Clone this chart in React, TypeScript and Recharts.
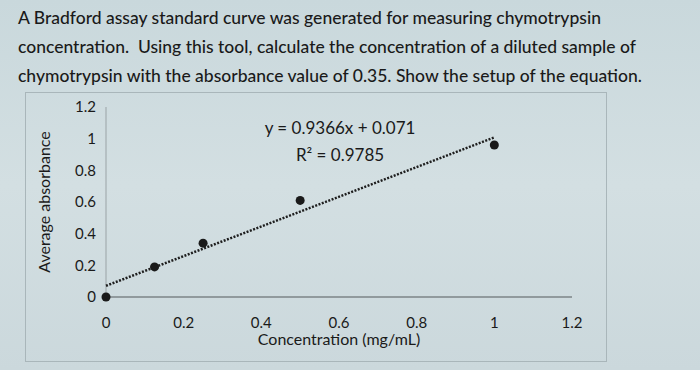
import React from 'react';
import { ScatterChart, Scatter, XAxis, YAxis } from 'recharts';

// standard curve readings
const concentrations = [0, 0.125, 0.25, 0.5, 1];
const absorbances = [0, 0.19, 0.34, 0.61, 0.96];

// linear trendline endpoints (from y = 0.9366x + 0.071)
const trendX = [0, 1];
const trendY = [0.071, 1.008];

const xTicks = [0, 0.2, 0.4, 0.6, 0.8, 1, 1.2];
const yTicks = [0, 0.2, 0.4, 0.6, 0.8, 1, 1.2];

const titleLines = [
  'A Bradford assay standard curve was generated for measuring chymotrypsin',
  'concentration.  Using this tool, calculate the concentration of a diluted sample of',
  'chymotrypsin with the absorbance value of 0.35. Show the setup of the equation.',
];

const points = concentrations.map((x, i) => ({ x, y: absorbances[i] }));
const trend = trendX.map((x, i) => ({ x, y: trendY[i] }));

const fmt = (v: number) => String(v);

const App = () => {
  return (
    <div
      style={{
        position: 'fixed',
        left: 0,
        top: 0,
        width: 700,
        height: 370,
        background: 'linear-gradient(180deg, #c9d8dc 0%, #d3dfe2 50%, #cbd8dc 100%)',
        fontFamily: 'Lato, "Noto Sans", sans-serif',
        color: '#1a1a1a',
        overflow: 'hidden',
      }}
    >
      <div style={{ position: 'absolute', left: 18, top: 3, fontSize: 17.5, lineHeight: '29px', fontWeight: 500 }}>
        {titleLines.map((t) => (
          <div key={t} style={{ whiteSpace: 'pre' }}>{t}</div>
        ))}
      </div>
      <div
        style={{
          position: 'absolute',
          left: 25,
          top: 92,
          width: 580,
          height: 268,
          border: '1px solid #a9b6ba',
        }}
      />
      <div style={{ position: 'absolute', left: 0, top: 0 }}>
        <ScatterChart width={700} height={370} margin={{ top: 107, right: 128, bottom: 23, left: 40 }}>
          <XAxis
            type="number"
            dataKey="x"
            domain={[0, 1.2]}
            ticks={xTicks}
            tickFormatter={fmt}
            tickLine={false}
            axisLine={{ stroke: '#7d8587', strokeWidth: 1.5 }}
            tick={{ fontSize: 15, fill: '#1a1a1a' }}
            tickMargin={14}
            height={50}
            label={{ value: 'Concentration (mg/mL)', position: 'insideBottom', offset: 2, fontSize: 16, fill: '#1a1a1a' }}
          />
          <YAxis
            type="number"
            dataKey="y"
            domain={[0, 1.2]}
            ticks={yTicks}
            tickFormatter={fmt}
            tickLine={false}
            axisLine={{ stroke: '#9aa3a6', strokeWidth: 1 }}
            tick={{ fontSize: 15, fill: '#1a1a1a' }}
            tickMargin={4}
            width={66}
            label={{ value: 'Average absorbance', angle: -90, position: 'insideLeft', offset: 4, fontSize: 16, fill: '#1a1a1a', style: { textAnchor: 'middle' } }}
          />
          <Scatter
            data={trend}
            line={{ stroke: '#1e1e1e', strokeWidth: 2.5, strokeDasharray: '2 1.5' }}
            shape={() => <g />}
            isAnimationActive={false}
          />
          <Scatter data={points} fill="#1a1a1a" isAnimationActive={false} shape="circle" />
        </ScatterChart>
      </div>
      <div style={{ position: 'absolute', left: 250, top: 114, fontSize: 17, lineHeight: '27px', textAlign: 'center', width: 180 }}>
        <div>y = 0.9366x + 0.071</div>
        <div>R² = 0.9785</div>
      </div>
    </div>
  );
};

export default App;
